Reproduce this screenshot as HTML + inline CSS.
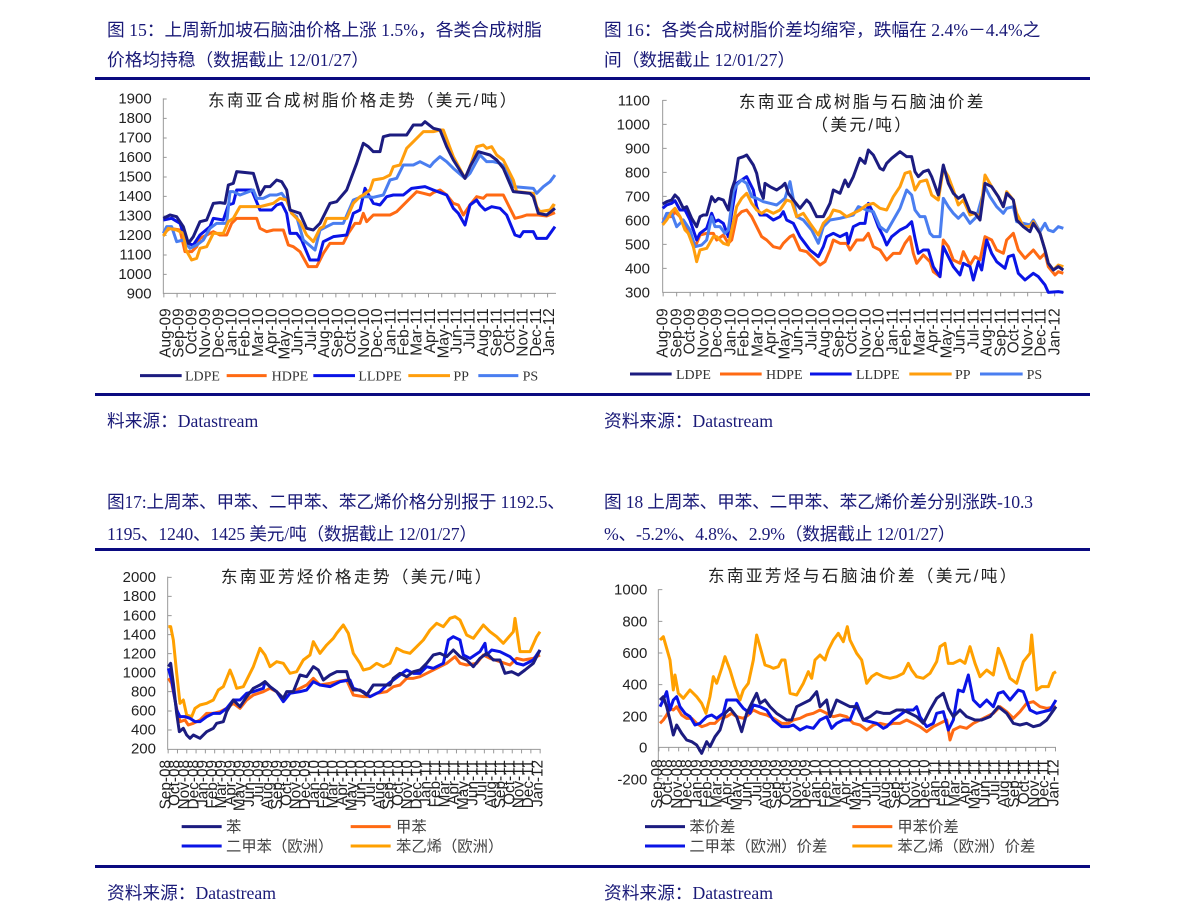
<!DOCTYPE html>
<html><head><meta charset="utf-8">
<style>
body{margin:0;background:#fff;width:1191px;height:921px;overflow:hidden;position:relative;font-family:"Liberation Serif","Noto Sans CJK SC",serif;}
.h{position:absolute;color:#1a1a78;font-size:17.7px;line-height:20px;white-space:nowrap;}
.rule{position:absolute;left:95px;width:995px;height:3px;background:#0a0a80;}
svg{position:absolute;left:0;top:0;}
</style></head><body>
<div class="h" style="left:107px;top:20px">图 15：上周新加坡石脑油价格上涨 1.5%，各类合成树脂</div>
<div class="h" style="left:107px;top:50px">价格均持稳（数据截止 12/01/27）</div>
<div class="h" style="left:604px;top:20px">图 16：各类合成树脂价差均缩窄，跌幅在 2.4%－4.4%之</div>
<div class="h" style="left:604px;top:50px">间（数据截止 12/01/27）</div>
<div class="rule" style="top:77px"></div>
<div class="rule" style="top:393px"></div>
<div class="h" style="left:107px;top:411px">料来源：Datastream</div>
<div class="h" style="left:604px;top:411px">资料来源：Datastream</div>
<div class="h" style="left:107px;top:492px;letter-spacing:-0.2px">图17:上周苯、甲苯、二甲苯、苯乙烯价格分别报于 1192.5、</div>
<div class="h" style="left:107px;top:524px;letter-spacing:-0.2px">1195、1240、1425 美元/吨（数据截止 12/01/27）</div>
<div class="h" style="left:604px;top:492px;letter-spacing:-0.2px">图 18 上周苯、甲苯、二甲苯、苯乙烯价差分别涨跌-10.3</div>
<div class="h" style="left:604px;top:524px;letter-spacing:-0.2px">%、-5.2%、4.8%、2.9%（数据截止 12/01/27）</div>
<div class="rule" style="top:548px"></div>
<div class="rule" style="top:865px"></div>
<div class="h" style="left:107px;top:883px">资料来源：Datastream</div>
<div class="h" style="left:604px;top:883px">资料来源：Datastream</div>

<svg width="1191" height="921" xmlns="http://www.w3.org/2000/svg">
<style>
.yl{font-family:"Liberation Sans",sans-serif;font-size:45px;fill:#222;text-anchor:end}
.xl{font-family:"Liberation Sans",sans-serif;font-size:46px;fill:#222;text-anchor:end}
.tt{font-family:"Liberation Sans","Noto Sans CJK SC",sans-serif;font-size:50px;fill:#222;letter-spacing:7px;text-anchor:middle}
.lg{font-family:"Liberation Serif",serif;font-size:42px;fill:#333}
.lc{font-family:"Liberation Sans","Noto Sans CJK SC",sans-serif;font-size:46px;fill:#444}
.ax{stroke:#999;stroke-width:3;fill:none}
.s{fill:none;stroke-width:9;stroke-linejoin:round}
</style>

<!-- Chart 1 -->
<g transform="translate(100,80) scale(0.33333)">
<text class="tt" x="790" y="78">东南亚合成树脂价格走势（美元/吨）</text>
<g class="yl"><text x="155" y="71">1900</text><text x="155" y="129">1800</text><text x="155" y="188">1700</text><text x="155" y="246">1600</text><text x="155" y="305">1500</text><text x="155" y="363">1400</text><text x="155" y="422">1300</text><text x="155" y="480">1200</text><text x="155" y="539">1100</text><text x="155" y="597">1000</text><text x="155" y="656">900</text></g>
<path class="ax" d="M190 55V640H1368"/>
<path d="M190 57H200M190 115H200M190 174H200M190 232H200M190 291H200M190 349H200M190 408H200M190 466H200M190 525H200M190 583H200" stroke="#999" stroke-width="3"/>
<line x1="190" y1="646" x2="1368" y2="646" stroke="#999" stroke-width="12" stroke-dasharray="3 36.7"/>
<g class="xl">
<text transform="translate(211,685) rotate(-90)">Aug-09</text><text transform="translate(251,685) rotate(-90)">Sep-09</text><text transform="translate(290,685) rotate(-90)">Oct-09</text><text transform="translate(330,685) rotate(-90)">Nov-09</text><text transform="translate(370,685) rotate(-90)">Dec-09</text><text transform="translate(410,685) rotate(-90)">Jan-10</text><text transform="translate(449,685) rotate(-90)">Feb-10</text><text transform="translate(489,685) rotate(-90)">Mar-10</text><text transform="translate(529,685) rotate(-90)">Apr-10</text><text transform="translate(568,685) rotate(-90)">May-10</text><text transform="translate(608,685) rotate(-90)">Jun-10</text><text transform="translate(648,685) rotate(-90)">Jul-10</text><text transform="translate(687,685) rotate(-90)">Aug-10</text><text transform="translate(727,685) rotate(-90)">Sep-10</text><text transform="translate(767,685) rotate(-90)">Oct-10</text><text transform="translate(807,685) rotate(-90)">Nov-10</text><text transform="translate(846,685) rotate(-90)">Dec-10</text><text transform="translate(886,685) rotate(-90)">Jan-11</text><text transform="translate(926,685) rotate(-90)">Feb-11</text><text transform="translate(965,685) rotate(-90)">Mar-11</text><text transform="translate(1005,685) rotate(-90)">Apr-11</text><text transform="translate(1045,685) rotate(-90)">May-11</text><text transform="translate(1084,685) rotate(-90)">Jun-11</text><text transform="translate(1124,685) rotate(-90)">Jul-11</text><text transform="translate(1164,685) rotate(-90)">Aug-11</text><text transform="translate(1204,685) rotate(-90)">Sep-11</text><text transform="translate(1243,685) rotate(-90)">Oct-11</text><text transform="translate(1283,685) rotate(-90)">Nov-11</text><text transform="translate(1323,685) rotate(-90)">Dec-11</text><text transform="translate(1362,685) rotate(-90)">Jan-12</text>
</g>
<polyline class="s" stroke="#ff6a13" points="190,460 210,445 240,450 255,515 275,515 290,500 300,475 320,465 340,455 360,465 380,465 395,430 410,415 470,415 480,445 500,455 520,450 550,450 565,495 580,500 600,515 625,560 650,560 670,520 690,490 730,490 745,460 765,430 780,430 790,400 800,425 820,405 870,405 890,395 905,380 930,355 950,335 970,340 990,345 1000,338 1020,330 1040,345 1060,370 1075,375 1090,405 1110,375 1130,350 1150,355 1160,345 1210,345 1225,375 1245,415 1265,410 1280,405 1315,405 1340,408 1365,398"/>
<polyline class="s" stroke="#0a14e6" points="190,420 215,415 240,430 260,490 280,495 300,465 330,440 340,415 370,420 385,375 400,370 410,330 455,330 480,390 515,390 530,375 545,370 560,400 570,460 590,460 605,480 630,540 655,540 670,485 700,470 740,465 760,400 780,390 795,325 820,370 840,375 860,350 880,345 910,345 935,325 975,320 1000,330 1040,345 1060,385 1075,400 1095,435 1110,375 1130,360 1140,375 1155,390 1175,380 1200,385 1220,405 1245,465 1260,470 1270,455 1300,455 1310,475 1340,475 1365,440"/>
<polyline class="s" stroke="#4a7ef0" points="190,460 200,440 215,440 230,485 250,480 270,505 290,495 310,480 330,445 350,430 380,430 390,335 400,335 420,345 460,330 470,355 490,355 510,345 530,345 545,340 560,360 575,400 590,410 610,480 645,510 660,450 680,440 700,430 730,430 760,360 780,352 800,350 820,352 850,345 870,300 890,295 910,255 940,255 960,245 990,260 1000,248 1020,230 1040,245 1060,265 1095,295 1110,280 1140,225 1160,245 1180,245 1200,250 1220,265 1240,320 1300,325 1310,340 1330,320 1350,305 1365,285"/>
<polyline class="s" stroke="#ff9e0d" points="190,468 205,445 230,450 250,460 258,510 275,540 290,535 300,505 320,500 340,460 370,460 385,425 400,415 420,380 480,380 500,375 520,370 540,355 560,360 575,400 600,425 620,465 640,485 660,445 670,440 680,415 740,415 760,370 780,350 790,345 810,330 820,300 850,295 870,285 880,260 900,255 920,205 940,185 960,165 970,155 1000,155 1020,150 1030,150 1060,230 1095,295 1110,260 1130,200 1150,195 1160,205 1175,200 1190,225 1210,240 1240,300 1250,335 1300,340 1310,380 1320,395 1350,390 1360,375 1365,378"/>
<polyline class="s" stroke="#1c1c80" points="190,415 210,405 230,410 250,440 265,490 280,470 300,425 320,420 340,370 360,368 375,370 385,315 400,310 410,275 460,280 480,345 495,320 510,320 530,300 545,305 560,330 570,390 600,400 620,445 640,450 660,430 670,410 690,370 710,365 740,330 770,250 790,190 805,200 820,215 840,215 850,170 870,165 920,165 940,135 965,135 975,125 1000,145 1020,150 1040,200 1060,240 1095,295 1110,260 1135,215 1170,225 1190,240 1210,265 1240,335 1290,340 1300,350 1315,400 1340,405 1365,385"/>
<g stroke-width="9"><line x1="120" y1="887" x2="245" y2="887" stroke="#1c1c80"/><line x1="380" y1="887" x2="500" y2="887" stroke="#ff6a13"/><line x1="640" y1="887" x2="765" y2="887" stroke="#0a14e6"/><line x1="925" y1="887" x2="1050" y2="887" stroke="#ff9e0d"/><line x1="1135" y1="887" x2="1255" y2="887" stroke="#4a7ef0"/></g>
<g class="lg"><text x="255" y="902">LDPE</text><text x="515" y="902">HDPE</text><text x="775" y="902">LLDPE</text><text x="1060" y="902">PP</text><text x="1268" y="902">PS</text></g>
</g>

<!-- Chart 2 -->
<g transform="translate(600,80) scale(0.33333)">
<text class="tt" x="787" y="82">东南亚合成树脂与石脑油价差</text>
<text class="tt" x="787" y="152">（美元/吨）</text>
<g class="yl"><text x="150" y="76">1100</text><text x="150" y="148">1000</text><text x="150" y="220">900</text><text x="150" y="292">800</text><text x="150" y="364">700</text><text x="150" y="436">600</text><text x="150" y="508">500</text><text x="150" y="580">400</text><text x="150" y="652">300</text></g>
<path class="ax" d="M188 60V637H1392"/>
<path d="M188 61H200M188 133H200M188 205H200M188 277H200M188 349H200M188 421H200M188 493H200M188 565H200" stroke="#999" stroke-width="3"/>
<line x1="188" y1="643" x2="1392" y2="643" stroke="#999" stroke-width="12" stroke-dasharray="3 37.5"/>
<g class="xl">
<text transform="translate(203,685) rotate(-90)">Aug-09</text><text transform="translate(244,685) rotate(-90)">Sep-09</text><text transform="translate(284,685) rotate(-90)">Oct-09</text><text transform="translate(325,685) rotate(-90)">Nov-09</text><text transform="translate(365,685) rotate(-90)">Dec-09</text><text transform="translate(406,685) rotate(-90)">Jan-10</text><text transform="translate(446,685) rotate(-90)">Feb-10</text><text transform="translate(487,685) rotate(-90)">Mar-10</text><text transform="translate(527,685) rotate(-90)">Apr-10</text><text transform="translate(568,685) rotate(-90)">May-10</text><text transform="translate(608,685) rotate(-90)">Jun-10</text><text transform="translate(649,685) rotate(-90)">Jul-10</text><text transform="translate(689,685) rotate(-90)">Aug-10</text><text transform="translate(730,685) rotate(-90)">Sep-10</text><text transform="translate(770,685) rotate(-90)">Oct-10</text><text transform="translate(811,685) rotate(-90)">Nov-10</text><text transform="translate(851,685) rotate(-90)">Dec-10</text><text transform="translate(892,685) rotate(-90)">Jan-11</text><text transform="translate(932,685) rotate(-90)">Feb-11</text><text transform="translate(973,685) rotate(-90)">Mar-11</text><text transform="translate(1013,685) rotate(-90)">Apr-11</text><text transform="translate(1054,685) rotate(-90)">May-11</text><text transform="translate(1094,685) rotate(-90)">Jun-11</text><text transform="translate(1135,685) rotate(-90)">Jul-11</text><text transform="translate(1175,685) rotate(-90)">Aug-11</text><text transform="translate(1216,685) rotate(-90)">Sep-11</text><text transform="translate(1256,685) rotate(-90)">Oct-11</text><text transform="translate(1297,685) rotate(-90)">Nov-11</text><text transform="translate(1337,685) rotate(-90)">Dec-11</text><text transform="translate(1378,685) rotate(-90)">Jan-12</text>
</g>
<polyline class="s" stroke="#ff6a13" points="188,420 200,410 215,410 225,395 240,410 255,440 265,460 280,490 290,490 300,465 320,460 340,460 350,480 370,465 385,490 395,480 410,410 425,395 440,390 455,410 470,440 485,470 500,480 520,500 540,505 550,490 570,470 580,465 600,510 620,515 640,535 660,555 675,545 690,510 700,480 720,490 740,490 750,510 770,480 790,480 805,460 820,500 840,510 860,540 880,520 900,520 915,490 930,470 940,520 950,550 970,525 990,545 1000,575 1020,590 1030,480 1045,500 1060,540 1080,550 1090,515 1110,555 1125,530 1140,540 1155,470 1175,480 1190,510 1210,520 1220,480 1240,460 1255,510 1275,535 1300,510 1320,535 1335,520 1345,560 1365,585 1375,575 1390,580"/>
<polyline class="s" stroke="#0a14e6" points="188,385 200,375 215,370 225,362 240,390 255,390 270,420 290,480 300,460 320,445 335,400 345,425 355,420 370,430 385,470 395,400 410,310 425,300 440,290 460,330 470,380 480,405 500,405 520,420 540,410 550,395 560,420 580,430 600,470 615,490 630,510 655,530 670,500 680,470 700,460 720,470 740,460 745,490 760,440 780,430 795,430 805,370 820,400 835,440 850,470 860,495 875,470 900,450 920,440 935,425 945,475 955,520 970,510 985,510 1000,560 1020,590 1030,500 1045,530 1060,560 1080,585 1090,550 1110,560 1120,600 1135,545 1145,570 1160,480 1175,520 1190,545 1215,565 1225,530 1240,525 1255,580 1275,600 1300,580 1315,590 1335,615 1345,637 1375,635 1390,637"/>
<polyline class="s" stroke="#4a7ef0" points="188,430 200,400 215,400 230,440 250,420 270,450 285,500 305,495 320,480 335,410 345,440 360,440 375,460 385,450 400,335 410,315 425,300 440,310 455,350 470,355 490,365 510,370 530,375 555,355 570,305 590,410 610,420 635,450 655,490 670,440 690,420 720,415 760,405 775,380 800,390 820,395 840,440 860,455 880,420 900,385 920,330 935,345 945,390 960,410 975,410 990,460 1000,470 1020,470 1030,355 1045,380 1060,400 1075,415 1090,400 1110,430 1130,410 1155,320 1170,350 1190,380 1210,400 1220,385 1240,380 1250,425 1270,430 1290,435 1300,420 1320,455 1335,430 1345,450 1360,455 1375,440 1390,445"/>
<polyline class="s" stroke="#ff9e0d" points="188,435 200,420 215,395 225,385 240,410 255,450 265,460 280,500 290,545 300,510 320,505 340,470 350,470 370,490 385,495 395,450 410,380 425,355 440,340 455,370 470,390 485,400 500,390 520,400 540,390 560,360 575,365 590,410 610,400 630,430 655,465 670,430 690,410 700,390 720,395 740,410 760,400 780,390 800,375 820,370 840,385 860,390 880,350 900,320 915,280 930,275 945,330 960,305 980,300 995,345 1015,360 1030,265 1045,290 1060,330 1075,375 1090,360 1110,405 1125,400 1140,410 1155,285 1175,320 1195,350 1210,380 1220,335 1240,360 1250,400 1270,440 1290,440 1300,425 1320,460 1335,510 1345,550 1360,570 1375,555 1390,560"/>
<polyline class="s" stroke="#1c1c80" points="188,372 200,365 215,360 225,345 235,355 250,385 260,380 275,415 290,440 300,410 310,405 320,405 335,350 345,365 355,355 370,360 385,390 395,330 405,300 415,235 430,230 440,225 460,255 470,280 480,330 490,355 495,310 510,320 530,330 545,320 555,310 565,340 580,360 600,385 620,360 630,370 650,410 670,410 690,370 700,330 720,340 735,300 745,320 760,290 780,235 795,250 805,210 820,225 840,265 850,270 860,250 875,235 900,215 920,230 935,230 945,275 955,290 970,275 985,270 995,290 1015,345 1030,255 1045,310 1060,340 1075,355 1090,345 1110,395 1125,400 1140,420 1155,310 1175,320 1195,350 1210,380 1220,340 1240,360 1250,420 1270,440 1290,455 1300,430 1320,460 1335,510 1345,550 1360,570 1375,560 1390,570"/>
<g stroke-width="9"><line x1="90" y1="882" x2="215" y2="882" stroke="#1c1c80"/><line x1="360" y1="882" x2="485" y2="882" stroke="#ff6a13"/><line x1="630" y1="882" x2="755" y2="882" stroke="#0a14e6"/><line x1="928" y1="882" x2="1055" y2="882" stroke="#ff9e0d"/><line x1="1140" y1="882" x2="1268" y2="882" stroke="#4a7ef0"/></g>
<g class="lg"><text x="228" y="897">LDPE</text><text x="498" y="897">HDPE</text><text x="768" y="897">LLDPE</text><text x="1065" y="897">PP</text><text x="1280" y="897">PS</text></g>
</g>

<!-- Chart 3 -->
<g transform="translate(100,560) scale(0.33333)">
<text class="tt" x="772" y="67">东南亚芳烃价格走势（美元/吨）</text>
<g class="yl"><text x="168" y="66">2000</text><text x="168" y="123">1800</text><text x="168" y="181">1600</text><text x="168" y="238">1400</text><text x="168" y="295">1200</text><text x="168" y="352">1000</text><text x="168" y="409">800</text><text x="168" y="467">600</text><text x="168" y="524">400</text><text x="168" y="581">200</text></g>
<path class="ax" d="M203 50V568H1322"/>
<path d="M203 52H215M203 109H215M203 167H215M203 224H215M203 281H215M203 338H215M203 395H215M203 453H215M203 510H215" stroke="#999" stroke-width="3"/>
<line x1="203" y1="574" x2="1322" y2="574" stroke="#999" stroke-width="12" stroke-dasharray="3 24.9"/>
<g class="xl">
<text transform="translate(211,600) rotate(-90)">Sep-08</text><text transform="translate(239,600) rotate(-90)">Oct-08</text><text transform="translate(267,600) rotate(-90)">Nov-08</text><text transform="translate(295,600) rotate(-90)">Dec-08</text><text transform="translate(323,600) rotate(-90)">Jan-09</text><text transform="translate(351,600) rotate(-90)">Feb-09</text><text transform="translate(378,600) rotate(-90)">Mar-09</text><text transform="translate(406,600) rotate(-90)">Apr-09</text><text transform="translate(434,600) rotate(-90)">May-09</text><text transform="translate(462,600) rotate(-90)">Jun-09</text><text transform="translate(490,600) rotate(-90)">Jul-09</text><text transform="translate(518,600) rotate(-90)">Aug-09</text><text transform="translate(546,600) rotate(-90)">Sep-09</text><text transform="translate(574,600) rotate(-90)">Oct-09</text><text transform="translate(602,600) rotate(-90)">Nov-09</text><text transform="translate(630,600) rotate(-90)">Dec-09</text><text transform="translate(657,600) rotate(-90)">Jan-10</text><text transform="translate(685,600) rotate(-90)">Feb-10</text><text transform="translate(713,600) rotate(-90)">Mar-10</text><text transform="translate(741,600) rotate(-90)">Apr-10</text><text transform="translate(769,600) rotate(-90)">May-10</text><text transform="translate(797,600) rotate(-90)">Jun-10</text><text transform="translate(825,600) rotate(-90)">Jul-10</text><text transform="translate(853,600) rotate(-90)">Aug-10</text><text transform="translate(881,600) rotate(-90)">Sep-10</text><text transform="translate(909,600) rotate(-90)">Oct-10</text><text transform="translate(936,600) rotate(-90)">Nov-10</text><text transform="translate(964,600) rotate(-90)">Dec-10</text><text transform="translate(992,600) rotate(-90)">Jan-11</text><text transform="translate(1020,600) rotate(-90)">Feb-11</text><text transform="translate(1048,600) rotate(-90)">Mar-11</text><text transform="translate(1076,600) rotate(-90)">Apr-11</text><text transform="translate(1104,600) rotate(-90)">May-11</text><text transform="translate(1132,600) rotate(-90)">Jun-11</text><text transform="translate(1160,600) rotate(-90)">Jul-11</text><text transform="translate(1188,600) rotate(-90)">Aug-11</text><text transform="translate(1215,600) rotate(-90)">Sep-11</text><text transform="translate(1243,600) rotate(-90)">Oct-11</text><text transform="translate(1271,600) rotate(-90)">Nov-11</text><text transform="translate(1299,600) rotate(-90)">Dec-11</text><text transform="translate(1327,600) rotate(-90)">Jan-12</text>
</g>
<polyline class="s" stroke="#ffa000" points="205,200 212,200 220,240 230,340 240,430 250,420 260,465 275,470 285,445 300,435 320,430 340,420 355,390 370,380 390,330 400,355 410,385 430,380 445,350 460,320 480,265 495,285 510,320 530,305 550,310 570,340 590,335 610,300 630,285 640,245 660,280 680,255 700,235 710,220 730,195 745,220 760,280 780,310 790,330 810,325 830,310 850,320 870,310 890,265 910,275 930,280 950,260 970,240 990,210 1010,190 1030,200 1050,175 1065,170 1080,180 1100,225 1120,235 1150,195 1170,215 1190,230 1210,250 1240,215 1245,175 1260,275 1290,275 1310,230 1320,215"/>
<polyline class="s" stroke="#ff6a13" points="205,355 215,370 230,445 240,485 255,480 265,495 280,490 300,480 320,460 340,460 360,455 380,445 400,430 420,445 440,420 460,405 490,395 510,385 530,395 550,420 570,400 600,385 620,375 640,355 660,375 690,370 710,365 740,360 760,405 790,410 810,410 830,400 860,395 880,380 900,375 920,355 940,355 960,350 990,335 1010,325 1040,310 1065,290 1080,310 1100,315 1130,310 1150,285 1170,295 1200,305 1230,315 1250,295 1270,300 1300,295 1320,285"/>
<polyline class="s" stroke="#0a14e6" points="205,325 215,360 230,450 240,470 255,470 270,475 285,485 300,485 320,470 340,460 360,460 380,445 400,420 420,420 440,400 460,395 490,385 495,365 510,380 530,395 550,425 570,400 600,395 620,390 640,365 660,375 690,380 720,365 750,360 760,385 790,395 810,410 840,395 860,375 880,360 900,345 920,330 940,340 960,340 980,320 1000,325 1030,310 1045,240 1060,230 1080,240 1090,285 1110,295 1140,275 1155,250 1160,285 1175,270 1200,275 1230,290 1250,310 1270,315 1300,300 1320,270"/>
<polyline class="s" stroke="#1c1c80" points="205,320 212,310 220,370 230,460 238,515 250,505 260,525 270,535 280,525 300,535 320,515 340,505 350,490 370,485 380,455 400,420 420,440 440,410 460,385 480,375 495,365 510,380 530,395 550,415 560,395 580,395 600,345 620,350 640,320 655,330 670,360 690,345 710,335 740,335 750,370 760,390 780,390 800,405 820,375 840,375 870,375 880,355 900,340 920,350 940,335 960,330 980,310 1000,285 1020,280 1040,290 1060,270 1080,290 1100,300 1120,320 1140,295 1160,280 1180,300 1200,300 1215,340 1235,335 1255,345 1275,330 1300,310 1320,270"/>
<g stroke-width="9"><line x1="245" y1="800" x2="365" y2="800" stroke="#1c1c80"/><line x1="752" y1="800" x2="872" y2="800" stroke="#ff6a13"/><line x1="245" y1="858" x2="365" y2="858" stroke="#0a14e6"/><line x1="752" y1="858" x2="872" y2="858" stroke="#ffa000"/></g>
<g class="lc"><text x="378" y="816">苯</text><text x="888" y="816">甲苯</text><text x="378" y="874">二甲苯（欧洲）</text><text x="888" y="874">苯乙烯（欧洲）</text></g>
</g>

<!-- Chart 4 -->
<g transform="translate(600,560) scale(0.33333)">
<text class="tt" x="790" y="64">东南亚芳烃与石脑油价差（美元/吨）</text>
<g class="yl"><text x="142" y="104">1000</text><text x="142" y="199">800</text><text x="142" y="294">600</text><text x="142" y="389">400</text><text x="142" y="484">200</text><text x="142" y="578">0</text><text x="142" y="673">-200</text></g>
<path class="ax" d="M175 88V657M175 562H1368"/>
<path d="M175 89H187M175 184H187M175 279H187M175 374H187M175 468H187M175 656H187" stroke="#999" stroke-width="3"/>
<line x1="175" y1="568" x2="1368" y2="568" stroke="#999" stroke-width="12" stroke-dasharray="3 26.75"/>
<g class="xl">
<text transform="translate(186,598) rotate(-90)">Sep-08</text><text transform="translate(216,598) rotate(-90)">Oct-08</text><text transform="translate(246,598) rotate(-90)">Nov-08</text><text transform="translate(275,598) rotate(-90)">Dec-08</text><text transform="translate(305,598) rotate(-90)">Jan-09</text><text transform="translate(335,598) rotate(-90)">Feb-09</text><text transform="translate(365,598) rotate(-90)">Mar-09</text><text transform="translate(394,598) rotate(-90)">Apr-09</text><text transform="translate(424,598) rotate(-90)">May-09</text><text transform="translate(454,598) rotate(-90)">Jun-09</text><text transform="translate(484,598) rotate(-90)">Jul-09</text><text transform="translate(513,598) rotate(-90)">Aug-09</text><text transform="translate(543,598) rotate(-90)">Sep-09</text><text transform="translate(573,598) rotate(-90)">Oct-09</text><text transform="translate(603,598) rotate(-90)">Nov-09</text><text transform="translate(632,598) rotate(-90)">Dec-09</text><text transform="translate(662,598) rotate(-90)">Jan-10</text><text transform="translate(692,598) rotate(-90)">Feb-10</text><text transform="translate(722,598) rotate(-90)">Mar-10</text><text transform="translate(751,598) rotate(-90)">Apr-10</text><text transform="translate(781,598) rotate(-90)">May-10</text><text transform="translate(811,598) rotate(-90)">Jun-10</text><text transform="translate(841,598) rotate(-90)">Jul-10</text><text transform="translate(870,598) rotate(-90)">Aug-10</text><text transform="translate(900,598) rotate(-90)">Sep-10</text><text transform="translate(930,598) rotate(-90)">Oct-10</text><text transform="translate(960,598) rotate(-90)">Nov-10</text><text transform="translate(989,598) rotate(-90)">Dec-10</text><text transform="translate(1019,598) rotate(-90)">Jan-11</text><text transform="translate(1049,598) rotate(-90)">Feb-11</text><text transform="translate(1079,598) rotate(-90)">Mar-11</text><text transform="translate(1108,598) rotate(-90)">Apr-11</text><text transform="translate(1138,598) rotate(-90)">May-11</text><text transform="translate(1168,598) rotate(-90)">Jun-11</text><text transform="translate(1198,598) rotate(-90)">Jul-11</text><text transform="translate(1227,598) rotate(-90)">Aug-11</text><text transform="translate(1257,598) rotate(-90)">Sep-11</text><text transform="translate(1287,598) rotate(-90)">Oct-11</text><text transform="translate(1317,598) rotate(-90)">Nov-11</text><text transform="translate(1346,598) rotate(-90)">Dec-11</text><text transform="translate(1376,598) rotate(-90)">Jan-12</text>
</g>
<polyline class="s" stroke="#ffa000" points="180,240 190,230 200,265 210,300 220,390 225,345 235,400 250,415 270,390 290,410 305,430 318,460 330,410 340,350 350,370 365,325 375,290 390,330 405,380 420,420 430,390 445,370 460,300 470,225 480,260 495,315 510,320 520,325 535,320 545,300 555,300 570,400 590,405 610,370 625,335 635,355 645,300 660,285 675,300 685,270 700,240 715,220 730,245 742,200 750,240 770,280 785,300 800,370 815,350 830,340 850,350 870,355 890,350 910,340 925,310 935,330 950,350 970,355 990,340 1010,305 1020,260 1035,250 1045,310 1060,310 1080,300 1095,310 1110,260 1125,310 1140,350 1160,330 1180,345 1195,265 1210,300 1230,355 1250,370 1270,305 1290,280 1295,225 1310,390 1325,380 1345,380 1360,340 1368,335"/>
<polyline class="s" stroke="#ff6a13" points="180,490 190,480 200,465 210,445 220,450 230,440 245,465 260,475 275,475 290,490 305,500 320,495 330,490 345,490 360,475 380,470 395,460 410,470 430,475 445,465 460,450 480,460 500,465 520,475 545,490 565,490 580,480 600,475 620,465 640,460 660,450 680,460 700,470 720,465 740,470 760,490 780,495 800,510 820,495 840,490 860,495 880,490 900,490 920,480 940,490 960,500 980,515 1000,500 1020,490 1040,480 1050,540 1060,510 1080,500 1100,505 1120,490 1140,480 1160,470 1180,460 1200,440 1220,455 1240,475 1260,455 1280,430 1300,425 1320,440 1340,445 1368,440"/>
<polyline class="s" stroke="#0a14e6" points="180,440 190,420 200,395 210,450 220,420 230,410 240,440 255,460 270,470 285,495 300,490 320,470 335,465 350,475 370,460 380,420 395,420 410,420 430,445 450,460 460,435 480,440 500,450 520,480 545,500 565,500 580,495 600,510 620,500 640,505 660,480 680,470 695,505 710,490 730,480 750,480 770,430 790,480 810,485 830,490 850,505 860,500 880,480 900,465 920,450 940,450 950,440 960,470 980,500 1000,490 1010,460 1030,455 1045,510 1060,480 1075,390 1090,395 1105,345 1120,420 1140,440 1160,420 1180,440 1195,400 1210,395 1230,420 1255,390 1270,395 1290,450 1310,460 1330,455 1350,450 1368,420"/>
<polyline class="s" stroke="#1c1c80" points="180,420 190,410 200,440 210,480 220,525 230,495 245,520 260,540 275,545 290,555 305,580 320,545 330,560 345,530 360,510 375,460 390,445 410,470 425,515 440,460 455,430 470,400 480,430 495,420 510,440 530,460 545,470 560,480 575,480 590,440 610,430 630,420 650,395 660,440 680,420 690,470 710,420 730,430 750,440 770,440 790,480 810,470 830,455 850,460 870,460 890,450 910,450 930,460 950,470 970,490 990,450 1010,415 1030,400 1045,445 1060,470 1080,450 1100,470 1125,480 1145,480 1170,470 1195,440 1220,460 1240,490 1260,495 1280,490 1300,500 1320,495 1340,480 1368,440"/>
<g stroke-width="9"><line x1="135" y1="800" x2="255" y2="800" stroke="#1c1c80"/><line x1="757" y1="800" x2="877" y2="800" stroke="#ff6a13"/><line x1="135" y1="858" x2="255" y2="858" stroke="#0a14e6"/><line x1="757" y1="858" x2="877" y2="858" stroke="#ffa000"/></g>
<g class="lc"><text x="268" y="816">苯价差</text><text x="892" y="816">甲苯价差</text><text x="268" y="874">二甲苯（欧洲）价差</text><text x="892" y="874">苯乙烯（欧洲）价差</text></g>
</g>
</svg>
</body></html>
